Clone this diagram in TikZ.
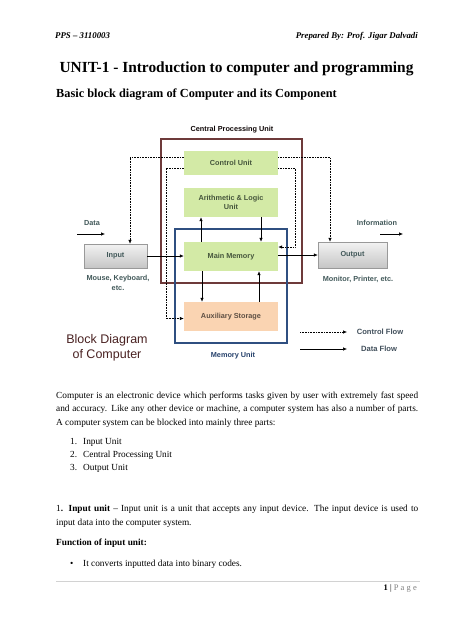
\documentclass[tikz,border=0pt]{standalone}
\usepackage{fontspec}
\setmainfont{Liberation Serif}
\newfontfamily\arial{Liberation Sans}
\usetikzlibrary{arrows.meta}
\definecolor{cpuc}{HTML}{6E3A3A}
\definecolor{memc}{HTML}{2F4F80}
\definecolor{greenbox}{HTML}{D3EAA6}
\definecolor{peach}{HTML}{FAD4B2}
\definecolor{lbl}{HTML}{46563C}
\definecolor{auxlbl}{HTML}{5E5044}
\definecolor{iolbl}{HTML}{42595A}
\definecolor{leg}{HTML}{42505C}
\definecolor{bdc}{HTML}{4A2222}
\tikzset{
  unitbox/.style={fill=greenbox, minimum width=94pt, text=lbl, font=\arial\bfseries\fontsize{7.3}{8.5}\selectfont, align=center, inner sep=0pt},
  iobox/.style={draw=gray!80, top color=gray!10, bottom color=gray!45, text=iolbl, font=\arial\bfseries\fontsize{7.3}{8.5}\selectfont, inner sep=0pt},
  frame/.style={line width=1.2pt},
  data/.style={-{Latex[length=4pt,width=3.5pt]}, line width=0.6pt},
  ctrl/.style={-{Latex[length=4pt,width=3.5pt]}, densely dotted, line width=0.6pt},
  smalllbl/.style={font=\arial\bfseries\fontsize{7.3}{9.5}\selectfont, align=center, inner sep=0pt},
  body/.style={font=\fontsize{9.3}{11}\selectfont, inner sep=0pt, anchor=base west},
}
\begin{document}
\begin{tikzpicture}[x=1pt,y=-1pt]
\useasboundingbox[fill=white] (0,0) rectangle (474,632);

% header
\node[inner sep=0pt, anchor=base west, font=\fontsize{8.8}{10}\selectfont\bfseries\itshape] (hl) at (55,38) {PPS – 3110003};
\node[inner sep=0pt, anchor=base east, font=\fontsize{8.8}{10}\selectfont\bfseries\itshape] (hr) at (418,38) {Prepared By: Prof. Jigar Dalvadi};
\node[inner sep=0pt, anchor=base, font=\fontsize{15.4}{18}\selectfont\bfseries] (title) at (236.5,72) {UNIT-1 - Introduction to computer and programming};
\node[inner sep=0pt, anchor=base west, font=\fontsize{12.3}{14}\selectfont\bfseries] (sub) at (56,97) {Basic block diagram of Computer and its Component};

% diagram frames
\draw[frame, draw=cpuc] (161,139) rectangle (302,283);
\draw[frame, draw=memc] (175,229) rectangle (287,343);
\node[smalllbl, text=black!85!cpuc] (cpulbl) at (232,130) {Central Processing Unit};
\node[smalllbl, text=memc!85!black] (memlbl) at (233,356) {Memory Unit};

\node[unitbox, minimum height=24pt] (cu) at (231,163) {Control Unit};
\node[unitbox, minimum height=29pt] (alu) at (231,202.5) {Arithmetic \& Logic\\Unit};
\node[unitbox, minimum height=29pt] (mm) at (231,256.5) {Main Memory};
\node[unitbox, minimum height=29pt, fill=peach, text=auxlbl] (aux) at (231,316.5) {Auxiliary Storage};

\node[iobox, minimum width=63pt, minimum height=24pt] (in) at (115.5,256) {Input};
\node[iobox, minimum width=69pt, minimum height=26pt] (out) at (352.5,255) {Output};

\node[smalllbl, text=iolbl] (inlbl) at (118,283) {Mouse, Keyboard,\\etc.};
\node[smalllbl, text=iolbl] (outlbl) at (358,279) {Monitor, Printer, etc.};

% data flow
\draw[data] (in.east) -- (in.east -| mm.west);
\draw[data] (mm.east |- out.west) -- (out.west);
\draw[data] ([xshift=-30pt]mm.north) -- ([xshift=-30pt]alu.south);
\draw[data] ([xshift=30pt]alu.south) -- ([xshift=30pt]mm.north);
\draw[data] ([xshift=-29pt]mm.south) -- ([xshift=-29pt]aux.north);
\draw[data] ([xshift=28pt]aux.north) -- ([xshift=28pt]mm.south);

% control flow
\draw[ctrl] ([yshift=6pt]cu.west) -| ([xshift=14.5pt]in.north);
\draw[ctrl] ([yshift=-5pt]cu.west) -- ++(-18,0) |- ([yshift=-2pt]aux.west);
\draw[ctrl] ([yshift=6pt]cu.east) -| ([xshift=-22.5pt]out.north);
\draw[ctrl] ([yshift=-5pt]cu.east) -- ++(17,0) |- ([yshift=9.5pt]mm.east);

% data / information
\coordinate (d1) at (77,234);
\coordinate (d2) at (105,234);
\draw[data] (d1) -- (d2);
\node[smalllbl, text=iolbl] (datalbl) at (92,223) {Data};
\coordinate (i1) at (380,234);
\coordinate (i2) at (403,234);
\draw[data] (i1) -- (i2);
\node[smalllbl, text=iolbl] (infolbl) at (377,223) {Information};

% legend
\coordinate (l1) at (300,332);
\coordinate (l2) at (347,332);
\coordinate (l3) at (300,349);
\coordinate (l4) at (347,349);
\draw[ctrl] (l1) -- (l2);
\draw[data] (l3) -- (l4);
\node[smalllbl, text=leg, font=\arial\bfseries\fontsize{7.6}{9}\selectfont] (cflbl) at (380,332) {Control Flow};
\node[smalllbl, text=leg, font=\arial\bfseries\fontsize{7.6}{9}\selectfont] (dflbl) at (379,349) {Data Flow};

\node[inner sep=0pt, align=center, text=bdc, font=\arial\fontsize{12.5}{15}\selectfont] (bd) at (107,348) {Block Diagram\\of Computer};

% body text
\node[body] (p1) at (56,398) {\makebox[362pt][s]{Computer is an electronic device which performs tasks given by user with extremely fast speed}};
\node[body] (p2) at (56,411.5) {\makebox[362pt][s]{and accuracy. Like any other device or machine, a computer system has also a number of parts.}};
\node[body] (p3) at (56,425) {A computer system can be blocked into mainly three parts:};

\node[body] (n1) at (70,444) {1.};
\node[body] (t1) at (83,444) {Input Unit};
\node[body] (n2) at (70,457) {2.};
\node[body] (t2) at (83,457) {Central Processing Unit};
\node[body] (n3) at (70,470) {3.};
\node[body] (t3) at (83,470) {Output Unit};

\node[body] (q1) at (56,511) {\makebox[362pt][s]{1\textbf{. Input unit} – Input unit is a unit that accepts any input device. The input device is used to}};
\node[body] (q2) at (56,525) {input data into the computer system.};
\node[body, font=\fontsize{9.3}{11}\selectfont\bfseries] (fn) at (56,545) {Function of input unit:};
\node[body] (bul) at (70,566) {•};
\node[body] (b1) at (83,566) {It converts inputted data into binary codes.};

% footer
\coordinate (f1) at (56,581);
\coordinate (f2) at (420,581);
\draw[gray!35, line width=0.8pt] (f1) -- (f2);
\node[inner sep=0pt, anchor=base east, font=\fontsize{8.5}{10}\selectfont] (pg) at (417,590) {\textbf{1} | {\color{gray}P a g e}};
\end{tikzpicture}
\end{document}
